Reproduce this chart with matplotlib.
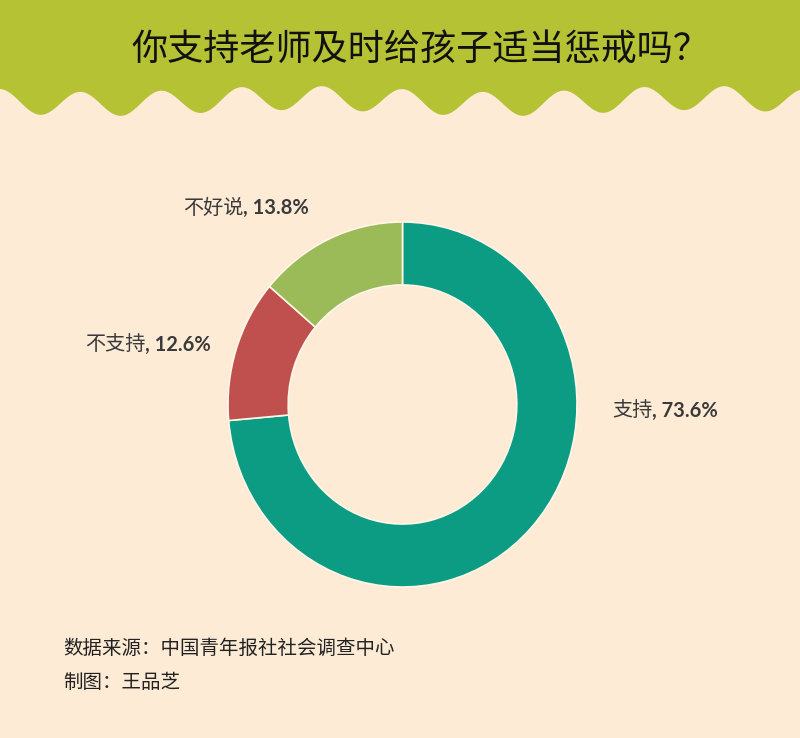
import numpy as np
import matplotlib
matplotlib.use("Agg")
import matplotlib.pyplot as plt

plt.rcParams['font.family'] = ['Noto Sans CJK SC', 'DejaVu Sans']

# Data
categories = ["支持", "不支持", "不好说"]
values = [73.6, 12.6, 13.8]
colors = ["#0B9C83", "#C0504D", "#9BBB59"]
title = "你支持老师及时给孩子适当惩戒吗？"
source_lines = ["数据来源：中国青年报社社会调查中心", "制图：王品芝"]

W, H = 800, 738
BG = "#FDEBD6"
HEADER = "#B5C234"

fig = plt.figure(figsize=(W / 100, H / 100), dpi=100)
fig.patch.set_facecolor(BG)

# Background axes in pixel coordinates
ax = fig.add_axes([0, 0, 1, 1])
ax.set_xlim(0, W)
ax.set_ylim(H, 0)
ax.axis("off")
ax.set_facecolor(BG)

# Wavy header (decoration)
xs = np.linspace(0, W, 1600)
period = 80.5
wave = 101 - 12 * np.cos(2 * np.pi * xs / period) + 3 * np.sin(2 * np.pi * xs / 400)
ax.fill_between(xs, 0, wave, color=HEADER, lw=0, zorder=1)

ax.text(420, 50, title, fontsize=26, color="#111111", ha="center", va="center", zorder=3)

# Donut
cx0, cx1 = 228, 577
cy0, cy1 = 222, 587
pax = fig.add_axes([cx0 / W, 1 - cy1 / H, (cx1 - cx0) / W, (cy1 - cy0) / H])
pax.pie(values, colors=colors, startangle=90, counterclock=False, radius=1,
        wedgeprops=dict(width=0.345, edgecolor="#FFF6E8", linewidth=1.2))
pax.set_aspect("auto")
pax.set_xlim(-1, 1)
pax.set_ylim(-1, 1)
pax.axis("off")

label_pos = {"支持": (612, 411), "不支持": (85, 345), "不好说": (183, 208)}
for cat, val in zip(categories, values):
    x, y = label_pos[cat]
    t1 = ax.text(x, y, cat, fontsize=14.5, color="#3A3A3A", ha="left",
                 va="center", zorder=3)
    ax.annotate(f", {val}%", xy=(1, 0.5), xycoords=t1, xytext=(0, 0),
                textcoords="offset points", fontsize=14.5, color="#3A3A3A",
                ha="left", va="center", fontweight="bold",
                family=["Lato", "DejaVu Sans"], zorder=3)

ax.text(63, 648, source_lines[0], fontsize=14, color="#222222", ha="left", va="center")
ax.text(63, 682, source_lines[1], fontsize=14, color="#222222", ha="left", va="center")

fig.savefig("out.png", dpi=100, facecolor=BG)
